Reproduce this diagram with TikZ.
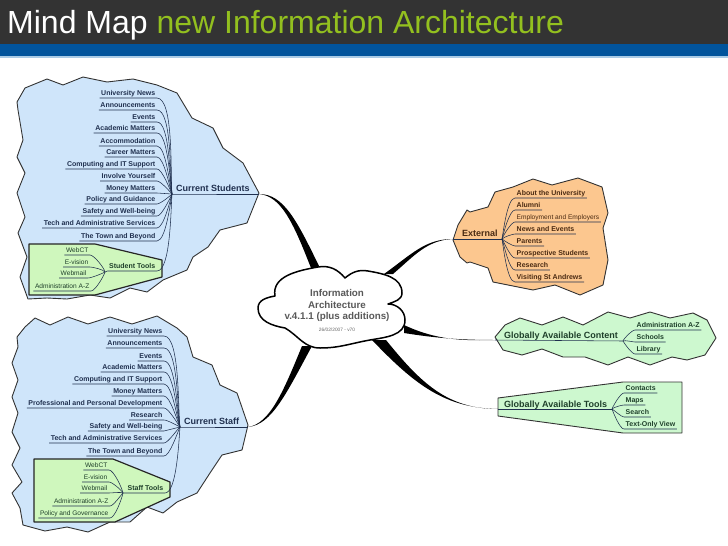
\documentclass[tikz,border=0pt]{standalone}
\usepackage{fontspec}
\setmainfont{Liberation Sans}
\definecolor{barDark}{HTML}{333333}
\definecolor{barBlue}{HTML}{02549C}
\definecolor{barLine}{HTML}{A9CBE6}
\definecolor{titleGreen}{HTML}{93C01F}
\definecolor{blobBlue}{HTML}{CFE5FA}
\definecolor{blobOrange}{HTML}{FCC78F}
\definecolor{blobGreen}{HTML}{CDF8CF}
\definecolor{boxGreen}{HTML}{CFF7BD}
\definecolor{inkBlue}{HTML}{20304F}
\definecolor{inkBrown}{HTML}{4A2A12}
\definecolor{inkGreen}{HTML}{1E3F2A}
\tikzset{
  blob/.style={draw=black!80,line width=0.9pt,line join=round},
  toolbox/.style={draw=black!85,line width=1.2pt,line join=round,fill=boxGreen},
  link/.style={draw=inkBlue,line width=0.55pt,looseness=0.45},
  leaf/.style={font=\bfseries\fontsize{7}{8}\selectfont,text=inkBlue,inner xsep=1.5pt,inner ysep=0.4pt,text height=5pt,text depth=1.5pt},
  leafr/.style={leaf,anchor=south east},
  leafl/.style={leaf,anchor=south west},
  toolr/.style={leafr,font=\fontsize{6.6}{7}\selectfont,text=inkGreen},
  branch/.style={font=\bfseries\fontsize{9}{10}\selectfont,text=inkBlue,inner xsep=1pt,inner ysep=0.4pt,text height=6.5pt,text depth=1.8pt,anchor=south west},
  cloudtext/.style={font=\bfseries\fontsize{9.8}{11}\selectfont,text=black!65},
}
\begin{document}
\begin{tikzpicture}[x=1pt,y=-1pt]
\useasboundingbox (0,0) rectangle (728,546);
% title bar
\fill[barDark] (0,0) rectangle (728,43.5);
\fill[barBlue] (0,43.5) rectangle (728,56);
\fill[barLine] (0,56) rectangle (728,57.5);
\node[anchor=base west,inner sep=0,font=\fontsize{32}{34}\selectfont,text=white] (title) at (7,33) {Mind Map \textcolor{titleGreen}{new Information Architecture}};
% current students
\draw[blob,fill=blobBlue] (17,102)--(25,88)--(47,79)--(63,85)--(83,77)--(107,82)--(133,79)--(157,85)--(177,93)--(192,118)--(213,128)--(223,148)--(243,163)--(259,193)--(247,223)--(220,230)--(208,247)--(193,257)--(187,270)--(163,280)--(147,292)--(130,288)--(110,298)--(90,295)--(67,299)--(47,298)--(28,299)--(20,277)--(27,257)--(18,233)--(25,217)--(17,193)--(25,173)--(17,157)--(23,140)--(18,110)--cycle;
\draw[toolbox] (29,244)--(95,244)--(162,260)--(162,277)--(95,295)--(29,295)--cycle;
\coordinate (shub) at (172,194);
\coordinate (send) at (259,194);
\node[branch] (students) at (175,194) {Current Students};
\node[leafr] (s1) at (157,98) {University News};
\node[leafr] (s2) at (157,110) {Announcements};
\node[leafr] (s3) at (157,122) {Events};
\node[leafr] (s4) at (157,133) {Academic Matters};
\node[leafr] (s5) at (157,146) {Accommodation};
\node[leafr] (s6) at (157,157) {Career Matters};
\node[leafr] (s7) at (157,169) {Computing and IT Support};
\node[leafr] (s8) at (157,181) {Involve Yourself};
\node[leafr] (s9) at (157,193) {Money Matters};
\node[leafr] (s10) at (157,204) {Policy and Guidance};
\node[leafr] (s11) at (157,216) {Safety and Well-being};
\node[leafr] (s12) at (157,228) {Tech and Administrative Services};
\node[leafr] (s13) at (157,241) {The Town and Beyond};
\draw[link] (shub)--(students.south west)--(send);
\draw[link] (s1.south west)--(s1.south east) to[out=0,in=96] (shub);
\draw[link] (s2.south west)--(s2.south east) to[out=0,in=98] (shub);
\draw[link] (s3.south west)--(s3.south east) to[out=0,in=100] (shub);
\draw[link] (s4.south west)--(s4.south east) to[out=0,in=100] (shub);
\draw[link] (s5.south west)--(s5.south east) to[out=0,in=105] (shub);
\draw[link] (s6.south west)--(s6.south east) to[out=0,in=110] (shub);
\draw[link] (s7.south west)--(s7.south east) to[out=0,in=115] (shub);
\draw[link] (s8.south west)--(s8.south east) to[out=0,in=130] (shub);
\draw[link] (s9.south west)--(s9.south east)--(shub);
\draw[link] (s10.south west)--(s10.south east) to[out=0,in=-135] (shub);
\draw[link] (s11.south west)--(s11.south east) to[out=0,in=-115] (shub);
\draw[link] (s12.south west)--(s12.south east) to[out=0,in=-105] (shub);
\draw[link] (s13.south west)--(s13.south east) to[out=0,in=-100] (shub);
% student tools
\coordinate (sthub) at (105,272);
\node[leaf,anchor=south east,text=inkGreen] (stools) at (157,271) {Student Tools};
\node[toolr] (st1) at (90,255) {WebCT};
\node[toolr] (st2) at (90,267) {E-vision};
\node[toolr] (st3) at (88,278) {Webmail};
\node[toolr] (st4) at (91,291) {Administration A-Z};
\draw[link] (sthub)--(stools.south west)--(stools.south east) to[out=0,in=-95] (shub);
\draw[link] (st1.south west)--(st1.south east) to[out=0,in=100] (sthub);
\draw[link] (st2.south west)--(st2.south east) to[out=0,in=120] (sthub);
\draw[link] (st3.south west)--(st3.south east) to[out=0,in=-150] (sthub);
\draw[link] (st4.south west)--(st4.south east) to[out=0,in=-105] (sthub);
% current staff
\draw[blob,fill=blobBlue] (17,337)--(25,327)--(35,318)--(50,325)--(68,317)--(88,324)--(110,317)--(132,324)--(157,316)--(177,328)--(187,337)--(193,357)--(212,365)--(220,385)--(237,393)--(248,425)--(242,450)--(222,455)--(210,473)--(197,493)--(177,502)--(163,513)--(147,507)--(130,522)--(110,522)--(88,532)--(67,527)--(45,531)--(23,525)--(20,508)--(12,493)--(22,482)--(12,465)--(20,448)--(12,432)--(18,413)--(12,397)--(18,380)--(12,363)--(18,347)--cycle;
\draw[toolbox] (34,459)--(113,459)--(170,482)--(170,497)--(115,522)--(34,522)--cycle;
\coordinate (chub) at (180,427);
\coordinate (cend) at (248,427);
\node[branch] (staff) at (183,427) {Current Staff};
\node[leafr] (c1) at (164,336) {University News};
\node[leafr] (c2) at (164,348) {Announcements};
\node[leafr] (c3) at (164,361) {Events};
\node[leafr] (c4) at (164,372) {Academic Matters};
\node[leafr] (c5) at (164,384) {Computing and IT Support};
\node[leafr] (c6) at (164,396) {Money Matters};
\node[leafr] (c7) at (164,408) {Professional and Personal Development};
\node[leafr] (c8) at (164,420) {Research};
\node[leafr] (c9) at (164,431) {Safety and Well-being};
\node[leafr] (c10) at (164,443) {Tech and Administrative Services};
\node[leafr] (c11) at (164,456) {The Town and Beyond};
\draw[link] (chub)--(staff.south west)--(cend);
\draw[link] (c1.south west)--(c1.south east) to[out=0,in=98] (chub);
\draw[link] (c2.south west)--(c2.south east) to[out=0,in=100] (chub);
\draw[link] (c3.south west)--(c3.south east) to[out=0,in=102] (chub);
\draw[link] (c4.south west)--(c4.south east) to[out=0,in=105] (chub);
\draw[link] (c5.south west)--(c5.south east) to[out=0,in=110] (chub);
\draw[link] (c6.south west)--(c6.south east) to[out=0,in=115] (chub);
\draw[link] (c7.south west)--(c7.south east) to[out=0,in=125] (chub);
\draw[link] (c8.south west)--(c8.south east) to[out=0,in=150] (chub);
\draw[link] (c9.south west)--(c9.south east)--(chub);
\draw[link] (c10.south west)--(c10.south east) to[out=0,in=-140] (chub);
\draw[link] (c11.south west)--(c11.south east) to[out=0,in=-115] (chub);
% staff tools
\coordinate (cthub) at (123,493);
\node[leaf,anchor=south east,text=inkGreen] (ctools) at (165,493) {Staff Tools};
\node[toolr] (ct1) at (109,470) {WebCT};
\node[toolr] (ct2) at (109,482) {E-vision};
\node[toolr] (ct3) at (109,493) {Webmail};
\node[toolr] (ct4) at (110,506) {Administration A-Z};
\node[toolr] (ct5) at (110,518) {Policy and Governance};
\draw[link] (cthub)--(ctools.south west)--(ctools.south east) to[out=0,in=-95] (chub);
\draw[link] (ct1.south west)--(ct1.south east) to[out=0,in=100] (cthub);
\draw[link] (ct2.south west)--(ct2.south east) to[out=0,in=115] (cthub);
\draw[link] (ct3.south west)--(ct3.south east) to[out=0,in=150] (cthub);
\draw[link] (ct4.south west)--(ct4.south east) to[out=0,in=-135] (cthub);
\draw[link] (ct5.south west)--(ct5.south east) to[out=0,in=-100] (cthub);
% external
\draw[blob,fill=blobOrange] (470,212)--(488,207)--(495,192)--(513,187)--(533,179)--(552,185)--(578,178)--(602,187)--(608,213)--(603,228)--(608,260)--(603,285)--(580,295)--(555,285)--(533,290)--(493,282)--(488,268)--(470,262)--(467,263)--(460,257)--(453,240)--(458,225)--(467,210)--cycle;
\coordinate (ehub) at (502,239);
\coordinate (eend) at (453,239);
\node[branch,text=inkBrown] (external) at (461,239) {External};
\node[leafl,text=inkBrown] (e1) at (515,198) {About the University};
\node[leafl,text=inkBrown] (e2) at (515,210) {Alumni};
\node[leafl,text=inkBrown,font=\fontsize{6.6}{7}\selectfont] (e3) at (515,222) {Employment and Employers};
\node[leafl,text=inkBrown] (e4) at (515,234) {News and Events};
\node[leafl,text=inkBrown] (e5) at (515,246) {Parents};
\node[leafl,text=inkBrown] (e6) at (515,258) {Prospective Students};
\node[leafl,text=inkBrown] (e7) at (515,270) {Research};
\node[leafl,text=inkBrown] (e8) at (515,282) {Visiting St Andrews};
\draw[link] (eend)--(ehub);
\draw[link] (ehub) to[out=80,in=180] (e1.south west)--(e1.south east);
\draw[link] (ehub) to[out=75,in=180] (e2.south west)--(e2.south east);
\draw[link] (ehub) to[out=70,in=180] (e3.south west)--(e3.south east);
\draw[link] (ehub) to[out=50,in=180] (e4.south west)--(e4.south east);
\draw[link] (ehub) to[out=-40,in=180] (e5.south west)--(e5.south east);
\draw[link] (ehub) to[out=-60,in=180] (e6.south west)--(e6.south east);
\draw[link] (ehub) to[out=-70,in=180] (e7.south west)--(e7.south east);
\draw[link] (ehub) to[out=-80,in=180] (e8.south west)--(e8.south east);
% globally available content
\draw[blob,fill=blobGreen] (495,337)--(505,325)--(520,318)--(542,325)--(563,317)--(583,325)--(608,312)--(630,318)--(650,312)--(670,318)--(693,313)--(707,320)--(716,338)--(705,355)--(687,360)--(672,357)--(650,365)--(628,357)--(608,365)--(585,357)--(563,357)--(542,349)--(522,355)--(503,350)--cycle;
\coordinate (ahub) at (623,341);
\coordinate (aend) at (495,340);
\node[branch,text=inkGreen] (content) at (503,341) {Globally Available Content};
\node[leafl,text=inkGreen] (a1) at (635,330) {Administration A-Z};
\node[leafl,text=inkGreen] (a2) at (635,342) {Schools};
\node[leafl,text=inkGreen] (a3) at (635,354) {Library};
\draw[link] (aend)--(ahub);
\draw[link] (ahub) to[out=70,in=180] (a1.south west)--(a1.south east);
\draw[link] (ahub) to[out=30,in=180] (a2.south west)--(a2.south east);
\draw[link] (ahub) to[out=-60,in=180] (a3.south west)--(a3.south east);
% globally available tools
\draw[blob,fill=blobGreen] (498,398)--(623,382)--(682,382)--(682,433)--(623,433)--(498,416)--cycle;
\coordinate (thub) at (612,409);
\coordinate (tend) at (498,409);
\node[branch,text=inkGreen] (tools) at (503,410) {Globally Available Tools};
\node[leafl,text=inkGreen] (t1) at (624,393) {Contacts};
\node[leafl,text=inkGreen] (t2) at (624,405) {Maps};
\node[leafl,text=inkGreen] (t3) at (624,417) {Search};
\node[leafl,text=inkGreen] (t4) at (624,429) {Text-Only View};
\draw[link] (tend)--(thub);
\draw[link] (thub) to[out=70,in=180] (t1.south west)--(t1.south east);
\draw[link] (thub) to[out=50,in=180] (t2.south west)--(t2.south east);
\draw[link] (thub) to[out=-30,in=180] (t3.south west)--(t3.south east);
\draw[link] (thub) to[out=-70,in=180] (t4.south west)--(t4.south east);
% tapered links into the cloud
\coordinate (cloudn) at (316,268);
\coordinate (clouds) at (307,346);
\coordinate (cloude) at (389,275);
\coordinate (cloudr) at (404,329);
\coordinate (cloudb) at (379,340);
\fill[black] (send) .. controls (281,196) and (293,222) .. ([xshift=-5pt]cloudn) -- ([xshift=4pt]cloudn) .. controls (297,221) and (284,194) .. (send);
\fill[black] (cend) .. controls (270,424) and (284,390) .. ([xshift=-5pt]clouds) -- ([xshift=5pt]clouds) .. controls (287,392) and (272,425) .. (cend);
\fill[black] (eend) .. controls (425,239) and (412,254) .. ([xshift=-5pt,yshift=1pt]cloude) -- ([xshift=4pt,yshift=1pt]cloude) .. controls (414,256) and (427,240) .. (eend);
\fill[black] (aend) .. controls (460,340) and (435,338) .. ([yshift=-4pt]cloudr) -- ([yshift=4pt]cloudr) .. controls (435,339.5) and (460,341) .. (aend);
\fill[black] (tend) .. controls (445,408) and (415,385) .. ([xshift=-7pt]cloudb) -- ([xshift=7pt]cloudb) .. controls (420,382) and (447,409) .. (tend);
% cloud
\draw[draw=black,line width=1.5pt,fill=white,line join=round] (275,296) to[out=100,in=190] (318,267) to[out=10,in=130] (345,278) to[out=40,in=170] (368,271) to[out=-10,in=90] (402,293) to[out=-90,in=20] (388,304) to[out=0,in=90] (405,320) to[out=-90,in=10] (370,340) to[out=190,in=0] (320,348) to[out=180,in=-30] (285,328) to[out=170,in=-90] (258,308) to[out=90,in=190] (275,296) -- cycle;
\node[cloudtext] (info1) at (337,293) {Information};
\node[cloudtext] (info2) at (337,305) {Architecture};
\node[cloudtext] (info3) at (337,317) {v.4.1.1 (plus additions)};
\node[font=\fontsize{4.8}{5}\selectfont,text=black!60] (info4) at (337,330) {26/02/2007 - v70};
\end{tikzpicture}
\end{document}
